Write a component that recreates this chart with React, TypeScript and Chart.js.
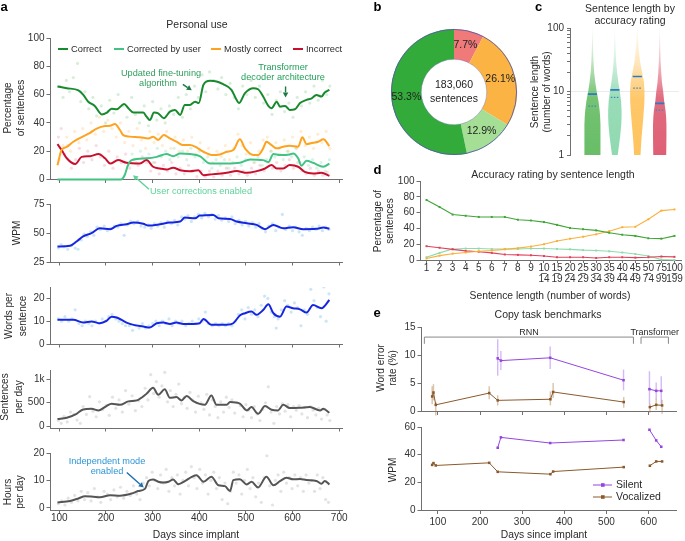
import React, { useEffect, useRef } from "react";
import { Chart, registerables } from "chart.js";

Chart.register(...registerables);

const W = 685;
const H = 541;
const FONT = "'Liberation Sans', Arial, Helvetica, sans-serif";
const AXIS = "#707070";
const INK = "#2a2a2a";

// ================= DATA =================
// ---- panel a ----
const dayTicks = [100, 200, 300, 400, 500, 600, 700];
const pctTicks = [0, 20, 40, 60, 80, 100];
const wpmTicks = [25, 50, 75];
const wpsTicks = [0, 10, 20];
const spdTicks = [0, 500, 1000];
const hpdTicks = [0, 10, 20];

const seriesNames = ["Correct", "Corrected by user", "Mostly correct", "Incorrect"];

const correctLine = [[96,65.7],[116,64.5],[141,63],[151,60],[162,55],[176,52],[191,46],[201,47],[212,50],[223,49.6],[239,53.4],[248,50.4],[259,47.3],[280,47.3],[287,44.4],[294,42],[303,47.3],[312,46.8],[324,43.3],[337,48],[348,49.2],[359,45.6],[369,52.7],[380,52.7],[391,55],[399,54],[409,67],[423,69.7],[437,69.3],[451,67.4],[469,63.4],[480,56.3],[485,54],[498,61],[516,64.5],[526,63.8],[537,58.6],[548,52],[555,50.4],[566,55],[573,51.5],[584,52],[594,49.2],[605,49.6],[616,54],[630,56.3],[641,57.4],[651,59.8],[662,58.6],[669,61.5],[679,63.4]];
const userLine = [[96,0],[150,0],[200,0],[232,0],[240,3],[247,10],[255,13.7],[287,15],[309,16],[330,18],[344,16.5],[359,18.4],[380,18],[401,16.5],[423,11.3],[459,11.3],[487,11.8],[509,14.2],[537,13.7],[548,12.3],[559,18],[573,17.3],[594,17.7],[601,18.4],[612,15],[619,9.7],[630,13.2],[644,11.8],[666,9],[679,11.3]];
const mostlyLine = [[96,10],[105,21],[116,23],[130,26.7],[148,30],[166,33],[180,36],[198,37.8],[209,38],[219,39.2],[230,35],[237,31.4],[251,30.3],[273,29.8],[291,29],[301,30.3],[312,28],[324,31.4],[337,29],[351,26.7],[366,24.3],[380,24.3],[391,23.2],[409,19.6],[426,17.3],[444,17.7],[459,19.6],[473,20.8],[487,28.4],[498,22],[516,17.3],[526,17.3],[537,22],[544,26.7],[555,24.3],[566,22],[580,23.2],[594,23.9],[612,23.2],[621,29.8],[630,25],[644,26],[655,26.7],[666,28.4],[679,23.6]];
const incorrectLine = [[96,25],[105,20.8],[116,15],[134,10.9],[148,16],[166,16.5],[184,18],[198,15],[209,11.3],[226,13.7],[244,11.8],[273,11.3],[287,13.7],[301,9],[316,7.8],[330,7],[344,8.3],[359,6.6],[380,5.9],[398,6.6],[409,3],[430,3.8],[459,4.7],[480,6],[502,4.7],[523,5.9],[541,7.8],[555,10.2],[566,7.8],[580,7.8],[594,10.2],[612,9],[626,5.4],[644,4.3],[662,4.7],[679,2.6]];

const correctDots = [[100,66],[108,58],[115,70],[122,62],[130,72],[139,82],[146,55],[155,62],[163,50],[172,58],[180,45],[190,52],[199,40],[208,56],[217,47],[226,60],[236,52],[245,44],[255,58],[263,46],[272,40],[282,52],[291,38],[300,55],[309,42],[318,50],[327,40],[336,52],[345,46],[355,58],[364,44],[372,60],[381,50],[390,66],[398,58],[406,74],[414,62],[422,76],[431,70],[440,64],[448,72],[457,60],[466,68],[475,58],[484,50],[493,66],[502,60],[511,70],[520,58],[529,66],[538,54],[547,60],[556,46],[565,56],[574,62],[583,48],[592,54],[601,44],[610,58],[619,52],[628,62],[637,54],[646,66],[655,56],[664,70],[673,60],[680,66]];
const userDots = [[248,10],[256,18],[265,12],[274,20],[283,14],[292,18],[301,12],[310,22],[319,16],[328,20],[337,14],[346,22],[355,16],[364,20],[373,14],[382,22],[391,16],[400,20],[409,12],[418,16],[427,8],[436,14],[445,10],[454,14],[463,8],[472,12],[481,16],[490,10],[499,14],[508,18],[517,12],[526,16],[535,10],[544,14],[553,20],[562,16],[571,22],[580,14],[589,20],[598,16],[607,22],[616,12],[625,16],[634,10],[643,14],[652,8],[661,12],[670,6],[679,14]];
const mostlyDots = [[100,14],[108,24],[116,30],[124,20],[133,34],[142,26],[150,36],[159,28],[168,40],[177,32],[186,44],[195,34],[204,42],[213,36],[222,30],[231,40],[240,26],[249,34],[258,24],[267,36],[276,28],[285,22],[294,34],[303,26],[312,32],[321,24],[330,34],[339,22],[348,30],[357,20],[366,28],[375,20],[384,30],[393,18],[402,26],[411,14],[420,22],[429,12],[438,20],[447,16],[456,24],[465,14],[474,22],[483,32],[492,24],[501,18],[510,26],[519,12],[528,20],[537,28],[546,30],[555,20],[564,26],[573,18],[582,28],[591,20],[600,30],[609,22],[618,34],[627,24],[636,30],[645,22],[654,32],[663,26],[672,34],[680,22]];
const incorrectDots = [[98,30],[104,36],[111,18],[118,24],[126,8],[135,14],[143,22],[152,12],[161,20],[170,14],[179,24],[188,16],[197,10],[206,20],[215,8],[224,16],[233,12],[242,18],[251,8],[260,14],[269,10],[278,16],[287,12],[296,6],[305,12],[314,4],[323,10],[332,6],[341,12],[350,4],[359,8],[368,4],[377,10],[386,6],[395,2],[404,6],[413,2],[422,6],[431,2],[440,6],[449,3],[458,8],[467,3],[476,8],[485,4],[494,6],[503,3],[512,8],[521,4],[530,10],[539,6],[548,12],[557,8],[566,12],[575,6],[584,10],[593,14],[602,8],[611,12],[620,6],[629,4],[638,8],[647,3],[656,6],[665,3],[674,5]];

const wpmLine = [[96,38.4],[123,39],[137,42.7],[151,47],[169,49.9],[187,54.1],[209,53.3],[223,56.1],[244,57.6],[259,59],[280,57.9],[291,56.4],[316,57.6],[337,59],[359,59.9],[369,63.3],[391,62.7],[401,65],[430,65.6],[441,62.7],[466,62.1],[480,59.9],[502,58.4],[523,57],[541,53.3],[559,57],[580,54.1],[601,55],[623,53.3],[651,53.6],[666,54.7],[679,53.6]];
const wpmDots = [[98,37],[104,40],[110,38],[118,36],[126,39],[134,37],[140,36],[147,44],[153,49],[160,47],[167,51],[174,48],[181,55],[188,53],[196,56],[203,52],[210,54],[218,56],[225,55],[232,58],[239,48],[246,57],[253,60],[260,58],[268,60],[275,56],[283,55],[290,57],[297,54],[304,58],[311,56],[318,59],[325,55],[332,60],[340,58],[347,61],[354,57],[362,64],[369,62],[376,65],[383,60],[390,64],[398,66],[405,63],[412,67],[420,64],[427,66],[434,62],[441,65],[448,61],[456,63],[463,60],[470,64],[477,58],[485,61],[492,57],[499,60],[506,56],[514,59],[521,55],[528,58],[535,54],[542,51],[549,56],[557,58],[564,52],[571,55],[578,66],[585,53],[593,56],[600,52],[607,55],[614,51],[621,48],[629,54],[636,52],[643,55],[650,53],[657,56],[664,52],[671,55],[678,53]];

const wpsLine = [[96,10.6],[130,10.6],[151,9.4],[169,9.9],[187,9.1],[201,10.1],[212,12],[223,11.6],[244,9.4],[259,8.4],[280,7.7],[294,7.2],[309,9.1],[323,9.4],[337,8.8],[351,9.4],[366,8.8],[387,8.8],[401,9.1],[409,11],[426,8.4],[459,8.4],[473,9.1],[487,12.5],[498,13.5],[512,14.2],[523,12.8],[537,14.9],[548,17.4],[559,13.5],[573,12],[587,16.4],[601,15.7],[616,15.2],[630,13.8],[644,17.1],[662,15.7],[679,19.3]];
const wpsDots = [[98,11],[105,10],[112,12],[120,10],[127,11],[134,15],[142,9],[149,8],[156,10],[163,9],[170,8],[178,10],[185,9],[192,11],[199,10],[206,12],[213,13],[221,11],[228,10],[235,9],[242,8],[250,8],[257,6],[264,8],[271,7],[278,9],[285,7],[292,8],[300,9],[307,10],[314,8],[321,10],[328,9],[335,11],[342,8],[349,10],[356,9],[363,10],[371,8],[378,9],[385,10],[392,9],[399,11],[406,10],[413,14],[420,9],[428,8],[435,9],[442,8],[449,9],[456,8],[463,9],[470,8],[477,10],[484,13],[491,15],[498,11],[505,16],[512,13],[519,15],[526,12],[533,17],[540,21],[547,20],[554,14],[561,12],[565,7],[569,11],[576,15],[583,19],[590,17],[597,14],[604,18],[611,16],[618,8],[625,15],[632,13],[639,24],[646,19],[653,16],[660,12],[667,25],[672,10],[678,22]];

const spdLine = [[96,150],[116,179],[137,264],[151,357],[169,371],[184,336],[201,429],[212,479],[230,457],[248,529],[266,550],[287,693],[301,821],[312,671],[326,786],[337,607],[351,621],[362,550],[373,643],[387,536],[412,457],[426,657],[437,457],[459,457],[466,514],[487,479],[502,336],[512,407],[526,264],[541,429],[555,350],[569,336],[580,457],[594,386],[616,393],[637,407],[659,336],[666,371],[679,286]];
const spdDots = [[98,120],[104,60],[110,210],[117,90],[124,300],[131,250],[138,130],[145,60],[151,420],[158,250],[165,630],[172,320],[179,200],[186,520],[193,350],[200,440],[207,230],[214,620],[221,380],[228,560],[235,300],[242,760],[249,470],[256,650],[263,330],[270,540],[277,420],[284,810],[290,560],[296,1100],[302,700],[308,950],[314,620],[320,860],[326,1150],[332,520],[338,760],[344,420],[350,680],[356,900],[362,480],[368,620],[374,380],[380,720],[386,560],[392,300],[398,640],[404,500],[410,360],[416,680],[422,240],[428,560],[434,420],[440,180],[446,520],[452,300],[458,620],[464,400],[470,560],[476,280],[482,500],[488,440],[494,200],[500,460],[506,340],[512,180],[518,420],[524,260],[530,120],[536,360],[542,500],[548,840],[554,300],[560,60],[566,420],[572,260],[578,480],[584,320],[590,460],[596,200],[602,420],[608,340],[614,440],[620,260],[626,400],[632,180],[638,420],[644,340],[650,240],[656,380],[662,150],[668,360],[674,240],[680,120]];

const hpdLine = [[96,1.9],[123,2.5],[141,3.4],[155,4.2],[173,4],[187,3.8],[209,4.6],[230,4.4],[255,5.2],[269,6.1],[284,7],[291,9.8],[301,10.3],[312,9.5],[323,9.2],[334,9.5],[344,10.3],[355,8.6],[369,9.7],[384,11.3],[394,11.9],[409,9.5],[426,11.3],[441,8.2],[455,7.9],[466,6.1],[473,10.1],[487,10.4],[502,8.5],[512,9.5],[526,7.4],[544,11.3],[559,8.2],[573,9.7],[587,11],[601,10.4],[616,10.5],[630,10.1],[651,9.8],[662,8.8],[669,9.8],[679,8.5]];
const hpdDots = [[98,1.5],[105,2.5],[112,1],[119,3.5],[126,2],[133,4.5],[140,2.5],[147,6],[154,3],[161,5.5],[168,2.5],[175,7],[182,4],[189,2],[196,6],[203,5],[210,3],[217,6.5],[224,4],[231,7.5],[238,3.5],[245,6],[252,4.5],[259,8],[266,5],[273,3],[280,9],[287,11],[293,8],[299,13],[305,10],[311,7],[317,12],[323,9],[329,14],[335,6],[341,11],[347,8],[353,12],[359,5],[365,10],[371,13],[377,8],[383,15],[389,11],[395,7],[401,14],[407,9],[413,12],[419,5],[425,10],[431,13],[437,7],[443,11],[449,3],[455,9],[461,1.5],[467,6],[473,13],[479,9],[485,12],[491,5],[497,10],[503,14],[509,7],[515,11],[521,4],[527,9],[533,2],[539,11],[545,19],[551,8],[557,1],[563,10],[569,12],[575,6],[581,13],[587,9],[593,11],[599,7],[605,12],[611,8],[617,11],[623,6],[629,12],[635,9],[641,10],[647,6],[653,12],[659,7],[665,11],[671,3],[677,2]];

// ---- panel b ----
const donutLabels = ["Incorrect", "Mostly correct", "Corrected by user", "Correct"];
const donutValues = [7.7, 26.1, 12.9, 53.3];
const donutTotal = "183,060";

// ---- panel c ----
const violinNames = ["Correct", "Corrected by user", "Mostly correct", "Incorrect"];
const violinLengths = [1, 1.5, 2, 3, 4, 5, 7, 10, 14, 20, 30, 50, 70, 100];
const violinDensity = [
  [0.98,0.98,0.98,0.98,0.94,0.88,0.74,0.52,0.35,0.21,0.13,0.065,0.04,0.024],
  [0.35,0.53,0.65,0.78,0.82,0.82,0.76,0.61,0.42,0.27,0.15,0.076,0.047,0.024],
  [0.39,0.47,0.54,0.66,0.74,0.8,0.87,0.88,0.82,0.59,0.33,0.15,0.08,0.035],
  [0.79,0.81,0.82,0.82,0.78,0.71,0.54,0.42,0.27,0.18,0.11,0.06,0.035,0.024],
];
const violinMean = [9.1, 10.6, 17.2, 6.5];
const violinMedian = [5.9, 8.1, 11.3, 5.1];
const logTicks = [1,2,3,4,5,6,7,8,9,10,20,30,40,50,60,70,80,90,100];
const logLabelled = [1, 10, 100];

// ---- panel d ----
const lengthLabels = ["1","2","3","4","5","6","7","8","9",["10","–","14"],["15","–","19"],["20","–","24"],["25","–","29"],["30","–","34"],["35","–","39"],["40","–","44"],["45","–","49"],["50","–","74"],["75","–","99"],["100","–","199"]];
const dCorrect = [76,67,57.5,56,54.5,54.5,54.5,51,50,48,44.5,40.5,39,37.5,34.5,32,30.5,27.5,27,30.5];
const dUser = [3.5,9,14,14.5,14.5,14,14,14,14.5,14.5,14,13.5,12.5,12,11,9.5,7.5,5,0.5,0];
const dMostly = [2,5.5,8,9.5,11,12,13.5,15,17,20,24,27,29.5,32.5,36.5,41.5,42,51.5,62.5,64];
const dIncorrect = [17.5,15.5,13.5,11.5,10.5,9,7,6.5,6,5,3.5,3.5,3.5,2.5,3.5,3.5,3,3.5,4.5,4];

// ---- panel e ----
const eDayTicks = [100, 200, 300, 400, 500, 600];
const werTicks = [0, 5, 10, 15];
const eWpmTicks = [0, 20, 40, 60];
const silentDays = [242, 249.5, 366.5, 540.5, 602, 618, 630];
const silentWER = [9.4, 9.0, 9.5, 5.5, 3.9, 3.6, 3.6];
const silentWERLo = [6.3, 7.3, 7.5, 3.7, 1.2, 2.1, 1.2];
const silentWERHi = [12.8, 10.7, 11.5, 7.4, 7.1, 5.1, 6.2];
const silentWPM = [45, 52.5, 48.4, 50.6, 58, 50.3, 45.7];
const vocalDays = [86.5, 89.6, 95, 221.8, 242, 367, 373.5, 541, 603, 618, 632];
const vocalWER = [2.6, 3.3, 1.1, 3.2, 1.9, 2.1, 3.4, 1.6, 0.7, 1.1, 1.0];
const vocalWERLo = [1.2, 1.9, -0.8, 2.1, 1.0, 1.0, 2.3, 0.6, -0.3, 0.2, -0.5];
const vocalWERHi = [4.4, 4.8, 1.6, 4.4, 2.8, 3.5, 5.0, 2.5, 1.3, 2.2, 2.0];
const vocalWPM = [32.6, 33.9, 32.2, 34.1, 27.6, 25.9, 27.8, 31, 32, 35.1, 35.1];
const modelBreakDay = 570;
const rnnSpan = [68, 564];
const transformerSpan = [582, 647];

// ================= STYLE =================
const C_CORRECT = "#168a2d";
const C_USER = "#42c283";
const C_MOSTLY = "#ffa21f";
const C_INCORRECT = "#c8102e";
const C_BLUE = "#1626e0";
const C_GREY = "#555555";
const C_SILENT = "#9445e0";
const C_VOCAL = "#8a5a2c";
const DONUT_COLORS = ["#f07a7a", "#fbb444", "#a4df95", "#33ab3b"];
const VIOLIN_RGB = [[92,184,90],[134,214,170],[255,190,80],[220,82,105]];
const D_COLORS = ["#3fa535", "#8edcab", "#fbb03b", "#e2405a"];

// ================= HELPERS =================
const ROT = -Math.PI / 2;
const pts = (arr: number[][]) => arr.map(([x, y]) => ({ x, y }));
const zip = (xs: number[], ys: number[]) => xs.map((x, i) => ({ x, y: ys[i] }));

function text(ctx: any, s: string, x: number, y: number, o: any = {}) {
  ctx.save();
  ctx.font = `${o.bold ? "bold " : ""}${o.size || 10}px ${FONT}`;
  ctx.fillStyle = o.color || INK;
  ctx.textAlign = o.align || "center";
  ctx.textBaseline = "middle";
  ctx.translate(x, y);
  if (o.rot) ctx.rotate(o.rot);
  ctx.fillText(s, 0, 0);
  ctx.restore();
}
function arrow(ctx: any, x1: number, y1: number, x2: number, y2: number, color: string, w = 1.4, head = 5) {
  ctx.save();
  ctx.strokeStyle = color;
  ctx.fillStyle = color;
  ctx.lineWidth = w;
  const a = Math.atan2(y2 - y1, x2 - x1);
  const bx = x2 - head * Math.cos(a), by = y2 - head * Math.sin(a);
  ctx.beginPath(); ctx.moveTo(x1, y1); ctx.lineTo(bx, by); ctx.stroke();
  const s = head * 0.55;
  ctx.beginPath();
  ctx.moveTo(x2, y2);
  ctx.lineTo(bx - s * Math.sin(a), by + s * Math.cos(a));
  ctx.lineTo(bx + s * Math.sin(a), by - s * Math.cos(a));
  ctx.closePath(); ctx.fill();
  ctx.restore();
}
function panelLabel(ctx: any, s: string, x: number, y: number) {
  text(ctx, s, x, y, { bold: true, size: 13, color: "#000" });
}

type Box = { L: number; T: number; R: number; B: number };
const fixX = (B: number) => (s: any) => { s.height = H - B; s.paddingLeft = 0; s.paddingRight = 0; };
const fixY = (L: number) => (s: any) => { s.width = L; s.paddingTop = 0; s.paddingBottom = 0; };
const setTicks = (vals: number[]) => (s: any) => { s.ticks = vals.map((v) => ({ value: v })); };

function linAxis(o: any) {
  return {
    type: o.type || "linear",
    min: o.min,
    max: o.max,
    afterBuildTicks: o.ticks ? setTicks(o.ticks) : undefined,
    afterFit: o.fit,
    ticks: {
      display: o.labels !== false,
      color: "#333",
      font: { family: FONT, size: 10 },
      padding: o.pad ?? 2,
      autoSkip: false,
      maxRotation: 0,
      callback: o.fmt || ((v: any) => String(v)),
    },
    grid: {
      display: true,
      drawOnChartArea: !!o.gridColor,
      color: o.gridColor || "rgba(0,0,0,0)",
      tickColor: AXIS,
      tickLength: o.tl ?? 3.5,
      tickWidth: 1,
    },
    border: { display: o.border !== false, color: AXIS, width: 1 },
  };
}

function baseOpts(box: Box) {
  return {
    responsive: false,
    animation: false,
    events: [],
    layout: { padding: { left: 0, top: box.T, right: W - box.R, bottom: 0 } },
    plugins: { legend: { display: false }, tooltip: { enabled: false }, title: { display: false } },
  };
}

let pid = 0;
const deco = (fn: (chart: any, ctx: any) => void, when = "afterDraw") => ({ id: "deco" + pid++, [when]: (chart: any) => fn(chart, chart.ctx) });

const dotSet = (arr: number[][], color: string) => ({
  data: pts(arr), showLine: false, pointRadius: 1.6, pointBackgroundColor: color, pointBorderWidth: 0, borderWidth: 0,
});
const lineSet = (arr: number[][], color: string, label: string) => ({
  label, data: pts(arr), showLine: true, pointRadius: 0, borderColor: color, borderWidth: 2,
  cubicInterpolationMode: "monotone", fill: false, clip: false,
});

// ================= PANEL a =================
const boxA = [
  { L: 50, T: 38, R: 342, B: 179.5 },
  { L: 50, T: 204, R: 342, B: 262 },
  { L: 50, T: 287, R: 342, B: 344 },
  { L: 50, T: 370, R: 342, B: 428 },
  { L: 50, T: 453, R: 342, B: 510.5 },
];
const xA = (box: Box, labels: boolean) =>
  linAxis({ min: 80, max: 706, ticks: dayTicks, labels, fit: fixX(box.B), pad: -2, tl: 3.5 });

function configA1() {
  const box = boxA[0];
  return {
    type: "scatter",
    data: {
      datasets: [
        lineSet(correctLine, C_CORRECT, seriesNames[0]),
        lineSet(userLine, C_USER, seriesNames[1]),
        lineSet(mostlyLine, C_MOSTLY, seriesNames[2]),
        lineSet(incorrectLine, C_INCORRECT, seriesNames[3]),
        dotSet(correctDots, "rgba(60,170,70,0.2)"),
        dotSet(userDots, "rgba(66,194,131,0.2)"),
        dotSet(mostlyDots, "rgba(255,162,31,0.2)"),
        dotSet(incorrectDots, "rgba(210,40,70,0.16)"),
      ],
    },
    options: {
      ...baseOpts(box),
      scales: { x: xA(box, false), y: linAxis({ min: 0, max: 100, ticks: pctTicks, fit: fixY(box.L) }) },
    },
    plugins: [
      deco((chart, ctx) => {
        panelLabel(ctx, "a", 4, 7);
        text(ctx, "Personal use", 197, 25, { size: 10.5 });
        text(ctx, "Percentage", 8, 108, { rot: ROT });
        text(ctx, "of sentences", 21.5, 108, { rot: ROT });
        // legend
        const lx = [58, 114, 211, 293];
        const ds = chart.data.datasets;
        for (let i = 0; i < 4; i++) {
          ctx.save();
          ctx.strokeStyle = ds[i].borderColor; ctx.lineWidth = 2;
          ctx.beginPath(); ctx.moveTo(lx[i], 49); ctx.lineTo(lx[i] + 10, 49); ctx.stroke();
          ctx.restore();
          text(ctx, ds[i].label, lx[i] + 13, 49, { align: "left", size: 9.3 });
        }
        const { x, y } = chart.scales;
        // annotations
        text(ctx, "Updated fine-tuning", 161, 73, { size: 9.2, color: "#2f9e5a" });
        text(ctx, "algorithm", 158, 83, { size: 9.2, color: "#2f9e5a" });
        const t1x = x.getPixelForValue(384), t1y = y.getPixelForValue(63);
        arrow(ctx, t1x - 9, t1y - 6, t1x, t1y, "#1d7a45");
        text(ctx, "Transformer", 283, 67, { size: 9.2, color: "#22a05a" });
        text(ctx, "decoder architecture", 283, 77, { size: 9.2, color: "#22a05a" });
        const t2x = x.getPixelForValue(585), t2y = y.getPixelForValue(58);
        arrow(ctx, t2x, t2y - 11, t2x, t2y, "#1d7a45");
        text(ctx, "User corrections enabled", 201, 191, { size: 9.2, color: "#5dd39a" });
        const t3x = x.getPixelForValue(258), t3y = y.getPixelForValue(3);
        arrow(ctx, t3x + 16, t3y + 14, t3x, t3y, "#5dd39a");
      }),
    ],
  };
}

function configSimple(i: number, line: number[][], dots: number[][], lineColor: string, dotColor: string, yopt: any, drawText: (chart: any, ctx: any) => void, xLabels = false) {
  const box = boxA[i];
  return {
    type: "scatter",
    data: { datasets: [lineSet(line, lineColor, ""), dotSet(dots, dotColor)] },
    options: {
      ...baseOpts(box),
      scales: { x: xA(box, xLabels), y: linAxis({ ...yopt, fit: fixY(box.L) }) },
    },
    plugins: [deco(drawText)],
  };
}

const configA2 = () =>
  configSimple(1, wpmLine, wpmDots, C_BLUE, "rgba(140,200,235,0.45)", { min: 25, max: 75, ticks: wpmTicks }, (c, ctx) => {
    text(ctx, "WPM", 17, 233, { rot: ROT });
  });
const configA3 = () =>
  configSimple(2, wpsLine, wpsDots, C_BLUE, "rgba(140,200,235,0.45)", { min: 0, max: 25, ticks: wpsTicks }, (c, ctx) => {
    text(ctx, "Words per", 9.5, 316, { rot: ROT });
    text(ctx, "sentence", 23, 316, { rot: ROT });
  });
const configA4 = () =>
  configSimple(3, spdLine, spdDots, C_GREY, "rgba(175,175,175,0.35)",
    { min: -40, max: 1200, ticks: spdTicks, fmt: (v: number) => (v >= 1000 ? v / 1000 + "k" : String(v)) },
    (c, ctx) => {
      text(ctx, "Sentences", 5.5, 397, { rot: ROT });
      text(ctx, "per day", 19, 397, { rot: ROT });
    });
const configA5 = () =>
  configSimple(4, hpdLine, hpdDots, C_GREY, "rgba(175,175,175,0.35)", { min: -1, max: 20, ticks: hpdTicks }, (chart, ctx) => {
    text(ctx, "Hours", 8, 492, { rot: ROT });
    text(ctx, "per day", 20, 492, { rot: ROT });
    text(ctx, "Days since implant", 196, 535, { size: 10.3 });
    text(ctx, "Independent mode", 107, 461, { size: 9.2, color: "#2b95d6" });
    text(ctx, "enabled", 107, 471, { size: 9.2, color: "#2b95d6" });
    const { x, y } = chart.scales;
    const tx = x.getPixelForValue(281), ty = y.getPixelForValue(7.4);
    arrow(ctx, tx - 17, ty - 15, tx, ty, "#1a6fb0");
  }, true);

// ================= PANEL b =================
function configB() {
  const box = { L: 391, T: 29, R: 517, B: 155 };
  return {
    type: "doughnut",
    data: { labels: donutLabels, datasets: [{ data: donutValues, backgroundColor: DONUT_COLORS, borderWidth: 0 }] },
    options: {
      responsive: false, animation: false, events: [],
      cutout: "52%",
      layout: { padding: { left: box.L, top: box.T, right: W - box.R, bottom: H - box.B } },
      plugins: { legend: { display: false }, tooltip: { enabled: false } },
    },
    plugins: [
      deco((chart, ctx) => {
        panelLabel(ctx, "b", 377.5, 7);
        const arcs = chart.getDatasetMeta(0).data;
        const a0 = arcs[0];
        ctx.save();
        ctx.strokeStyle = "#5a5ea8"; ctx.lineWidth = 0.9;
        ctx.beginPath(); ctx.arc(a0.x, a0.y, a0.outerRadius - 0.4, 0, Math.PI * 2); ctx.stroke();
        ctx.strokeStyle = "rgba(90,94,168,0.6)"; ctx.lineWidth = 0.6;
        ctx.beginPath(); ctx.arc(a0.x, a0.y, a0.innerRadius, 0, Math.PI * 2); ctx.stroke();
        ctx.restore();
        arcs.forEach((arc: any, i: number) => {
          const p = arc.tooltipPosition();
          text(ctx, donutValues[i].toFixed(1) + "%", p.x, p.y, { size: 10.5, color: "#222" });
        });
        text(ctx, donutTotal, a0.x, a0.y - 7, { size: 10.5, color: "#222" });
        text(ctx, "sentences", a0.x, a0.y + 7, { size: 10.5, color: "#222" });
      }),
    ],
  };
}

// ================= PANEL c =================
function configC() {
  const box = { L: 570, T: 28, R: 684, B: 155 };
  const HALF = 0.365;
  return {
    type: "scatter",
    data: {
      datasets: [{
        data: violinMean.map((m, i) => ({ x: i + 1, y: m })),
        pointStyle: "line", pointRadius: 4.6, borderColor: "#2b7bc2", pointBorderWidth: 1.6, showLine: false,
      }],
    },
    options: {
      ...baseOpts(box),
      scales: {
        x: { type: "linear", min: 0, max: 4.85, afterFit: fixX(box.B), ticks: { display: false }, grid: { display: false }, border: { display: false } },
        y: {
          ...linAxis({ type: "logarithmic", min: 1, max: 100, ticks: logTicks, fit: fixY(box.L), tl: 3, pad: 3,
            fmt: (v: number) => (logLabelled.includes(v) ? String(v) : "") }),
          grid: {
            display: true, drawOnChartArea: true, tickColor: AXIS, tickLength: 3,
            color: (c: any) => (c.tick && c.tick.value === 10 ? "#ebebeb" : "rgba(0,0,0,0)"),
          },
        },
      },
    },
    plugins: [
      deco((chart, ctx) => {
        const { x, y } = chart.scales;
        const unit = x.getPixelForValue(1) - x.getPixelForValue(0);
        violinDensity.forEach((dens, i) => {
          const cx = x.getPixelForValue(i + 1);
          const [r, g, b] = VIOLIN_RGB[i];
          ctx.save();
          ctx.beginPath();
          violinLengths.forEach((len, k) => {
            const px = cx - dens[k] * HALF * unit, py = y.getPixelForValue(len);
            k === 0 ? ctx.moveTo(px, py) : ctx.lineTo(px, py);
          });
          for (let k = violinLengths.length - 1; k >= 0; k--) ctx.lineTo(cx + dens[k] * HALF * unit, y.getPixelForValue(violinLengths[k]));
          ctx.closePath();
          const grad = ctx.createLinearGradient(0, y.getPixelForValue(1), 0, y.getPixelForValue(100));
          grad.addColorStop(0, `rgba(${r},${g},${b},0.92)`);
          grad.addColorStop(0.45, `rgba(${r},${g},${b},0.85)`);
          grad.addColorStop(0.75, `rgba(${r},${g},${b},0.35)`);
          grad.addColorStop(1, `rgba(${r},${g},${b},0.05)`);
          ctx.fillStyle = grad;
          ctx.fill();
          // median (dotted)
          const my = y.getPixelForValue(violinMedian[i]);
          ctx.strokeStyle = "#3d86c6"; ctx.lineWidth = 1.2; ctx.setLineDash([1.5, 1.5]);
          ctx.beginPath(); ctx.moveTo(cx - 4, my); ctx.lineTo(cx + 4, my); ctx.stroke();
          ctx.restore();
        });
      }, "beforeDatasetsDraw"),
      deco((chart, ctx) => {
        panelLabel(ctx, "c", 538.5, 7.5);
        text(ctx, "Sentence length by", 630, 9, { size: 10.5 });
        text(ctx, "accuracy rating", 630, 21, { size: 10.5 });
        text(ctx, "Sentence length", 535, 92, { rot: ROT });
        text(ctx, "(number of words)", 547, 92, { rot: ROT });
      }),
    ],
  };
}

// ================= PANEL d =================
function configD() {
  const box = { L: 420, T: 181, R: 684, B: 260 };
  const ds = (data: number[], color: string, label: string) => ({
    label, data, borderColor: color, backgroundColor: color, borderWidth: 1.1,
    pointStyle: "rect", pointRadius: 1.4, pointBorderWidth: 0, pointBackgroundColor: color, tension: 0, clip: false,
  });
  return {
    type: "line",
    data: {
      labels: lengthLabels,
      datasets: [ds(dCorrect, D_COLORS[0], seriesNames[0]), ds(dMostly, D_COLORS[2], seriesNames[2]), ds(dIncorrect, D_COLORS[3], seriesNames[3]), ds(dUser, D_COLORS[1], seriesNames[1])],
    },
    options: {
      ...baseOpts(box),
      scales: {
        x: {
          type: "category", offset: true, afterFit: fixX(box.B),
          ticks: { color: "#333", font: { family: FONT, size: 10, lineHeight: 0.55 }, padding: 2, autoSkip: false, maxRotation: 0 },
          grid: { display: true, drawOnChartArea: false, tickLength: 3, tickColor: AXIS },
          border: { color: AXIS },
        },
        y: linAxis({ min: 0, max: 100, ticks: pctTicks, fit: fixY(box.L) }),
      },
    },
    plugins: [
      deco((chart, ctx) => {
        panelLabel(ctx, "d", 377.5, 170);
        text(ctx, "Accuracy rating by sentence length", 553, 175, { size: 10.5 });
        text(ctx, "Percentage of", 378, 221, { rot: ROT });
        text(ctx, "sentences", 390, 221, { rot: ROT });
        text(ctx, "Sentence length (number of words)", 550, 296, { size: 10.3 });
      }),
    ],
  };
}

// ================= PANEL e =================
const eBox1 = { L: 421, T: 327, R: 676, B: 411 };
const eBox2 = { L: 421, T: 427, R: 676, B: 510 };
function eSet(xs: number[], ys: number[], color: string, label: string) {
  return {
    label, data: zip(xs, ys), showLine: true, borderColor: color, borderWidth: 1, pointStyle: "rect",
    pointRadius: 1.8, pointBorderWidth: 0, pointBackgroundColor: color, clip: false,
    segment: { borderColor: (c: any) => (c.p0.parsed.x < modelBreakDay && c.p1.parsed.x > modelBreakDay ? "rgba(0,0,0,0)" : undefined) },
  };
}
function errorBars(chart: any, ctx: any, xs: number[], lo: number[], hi: number[], color: string) {
  const { x, y } = chart.scales;
  ctx.save(); ctx.strokeStyle = color; ctx.lineWidth = 1.4;
  xs.forEach((d, i) => {
    const px = x.getPixelForValue(d);
    ctx.beginPath(); ctx.moveTo(px, y.getPixelForValue(lo[i])); ctx.lineTo(px, y.getPixelForValue(hi[i])); ctx.stroke();
  });
  ctx.restore();
}
function configE1() {
  const box = eBox1;
  return {
    type: "scatter",
    data: { datasets: [eSet(silentDays, silentWER, C_SILENT, "Silent"), eSet(vocalDays, vocalWER, C_VOCAL, "Vocalized")] },
    options: {
      ...baseOpts(box),
      scales: {
        x: linAxis({ min: 60, max: 665, ticks: eDayTicks, labels: false, fit: fixX(box.B), tl: 4 }),
        y: linAxis({ min: 0, max: 15, ticks: werTicks, fit: fixY(box.L) }),
      },
    },
    plugins: [
      deco((chart, ctx) => {
        errorBars(chart, ctx, silentDays, silentWERLo, silentWERHi, "rgba(160,100,230,0.45)");
        errorBars(chart, ctx, vocalDays, vocalWERLo, vocalWERHi, "rgba(170,120,70,0.45)");
      }, "beforeDatasetsDraw"),
      deco((chart, ctx) => {
        panelLabel(ctx, "e", 377, 313);
        text(ctx, "Copy task benchmarks", 548, 315, { size: 10.5 });
        text(ctx, "Word error", 381, 368, { rot: ROT });
        text(ctx, "rate (%)", 393.5, 368, { rot: ROT });
        const { x, y } = chart.scales;
        const by = y.getPixelForValue(13.2), bt = y.getPixelForValue(12.0);
        ctx.save(); ctx.strokeStyle = "#888"; ctx.lineWidth = 1;
        [rnnSpan, transformerSpan].forEach(([a, b]) => {
          const xa = x.getPixelForValue(a), xb = x.getPixelForValue(b);
          ctx.beginPath(); ctx.moveTo(xa, bt); ctx.lineTo(xa, by); ctx.lineTo(xb, by); ctx.lineTo(xb, bt); ctx.stroke();
        });
        ctx.restore();
        text(ctx, "RNN", x.getPixelForValue((rnnSpan[0] + rnnSpan[1]) / 2), by - 5, { size: 9 });
        text(ctx, "Transformer", x.getPixelForValue((transformerSpan[0] + transformerSpan[1]) / 2), by - 5, { size: 9 });
      }),
    ],
  };
}
function configE2() {
  const box = eBox2;
  return {
    type: "scatter",
    data: { datasets: [eSet(silentDays, silentWPM, C_SILENT, "Silent"), eSet(vocalDays, vocalWPM, C_VOCAL, "Vocalized")] },
    options: {
      ...baseOpts(box),
      scales: {
        x: linAxis({ min: 60, max: 665, ticks: eDayTicks, fit: fixX(box.B), tl: 4, pad: 2 }),
        y: linAxis({ min: 0, max: 60, ticks: eWpmTicks, fit: fixY(box.L) }),
      },
    },
    plugins: [
      deco((chart, ctx) => {
        text(ctx, "WPM", 393, 470, { rot: ROT });
        text(ctx, "Days since implant", 544, 535, { size: 10.3 });
        const ds = chart.data.datasets;
        [485, 497].forEach((ly, i) => {
          ctx.save();
          ctx.strokeStyle = ds[i].borderColor; ctx.fillStyle = ds[i].borderColor; ctx.lineWidth = 1;
          ctx.beginPath(); ctx.moveTo(593, ly); ctx.lineTo(612, ly); ctx.stroke();
          ctx.fillRect(601, ly - 1.8, 3.6, 3.6);
          ctx.restore();
          text(ctx, ds[i].label, 616, ly, { align: "left", size: 10.5 });
        });
      }),
    ],
  };
}

// ================= COMPONENTS =================
function ChartCanvas({ make }: { make: () => any }) {
  const ref = useRef<HTMLCanvasElement>(null);
  useEffect(() => {
    const chart = new Chart(ref.current as HTMLCanvasElement, make());
    return () => chart.destroy();
  }, [make]);
  return <canvas ref={ref} width={W} height={H} style={{ position: "absolute", left: 0, top: 0, width: W, height: H }} />;
}

const CONFIGS = [configA1, configA2, configA3, configA4, configA5, configB, configC, configD, configE1, configE2];

export default function App() {
  return (
    <div style={{ position: "fixed", left: 0, top: 0, width: W, height: H, background: "#fff", overflow: "hidden", fontFamily: FONT }}>
      {CONFIGS.map((make, i) => (
        <ChartCanvas key={i} make={make} />
      ))}
    </div>
  );
}
